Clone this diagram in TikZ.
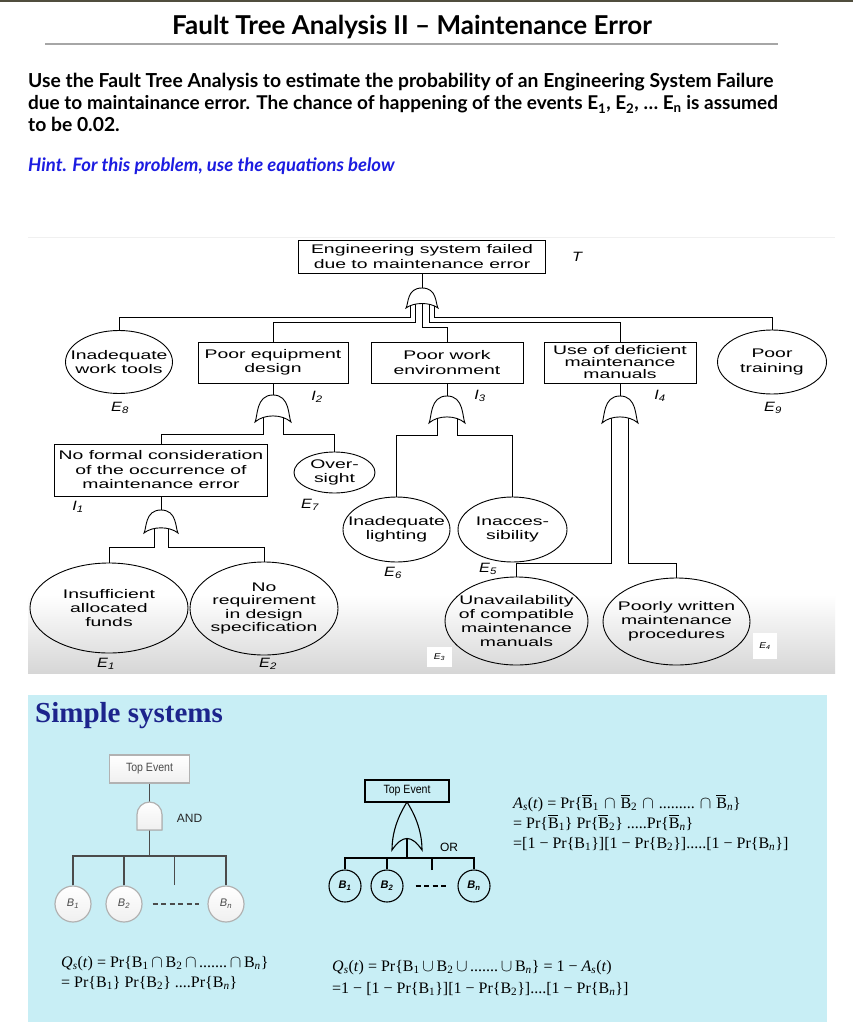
\documentclass[tikz,border=0pt]{standalone}
\usepackage{fontspec}
\setmainfont{Liberation Serif}
\newfontfamily\latof{Lato}
\newfontfamily\ftf[FakeStretch=1.55]{Liberation Sans}
\newfontfamily\labf[FakeStretch=1.2]{Liberation Sans}
\newfontfamily\narf[FakeStretch=0.88]{Liberation Sans}
\newfontfamily\arialf{Liberation Sans}
\newfontfamily\eqf{Liberation Serif}
\usetikzlibrary{shapes.geometric,calc}
\definecolor{hintblue}{RGB}{28,28,225}
\definecolor{panelcyan}{RGB}{200,238,245}
\definecolor{navyt}{RGB}{28,36,140}
\definecolor{topline}{RGB}{80,78,62}
\definecolor{sgray}{RGB}{75,75,75}
\newcommand\Bb{\makebox[0pt][l]{\rule[0.74em]{0.62em}{0.05em}}B}
\newcommand\lb[2]{\textit{#1}\textsubscript{\textit{#2}}}
\newcommand\capx{\,$\cap$\,}
\newcommand\capw{\hspace{5pt}$\cap$\hspace{5pt}}
\newcommand\cupx{\,$\cup$\,}
\newcommand\ftbf{\ftf\fontsize{12.5}{14.5}\selectfont}
\newcommand\ftgate[4]{%
  \filldraw[gateline] (#1-#3/2,#2+#4) .. controls (#1-0.42*#3,#2+0.8*#4) and (#1-0.48*#3,#2) .. (#1,#2)
   .. controls (#1+0.48*#3,#2) and (#1+0.42*#3,#2+0.8*#4) .. (#1+#3/2,#2+#4)
   .. controls (#1+0.25*#3,#2+0.7*#4) and (#1-0.25*#3,#2+0.7*#4) .. cycle;}
\newcommand\andgatex[4]{%
  \filldraw[andline] (#1-#3/2,#2+#4) -- (#1-#3/2,#2+#3/2) .. controls (#1-#3/2,#2+0.224*#3) and (#1-0.276*#3,#2) .. (#1,#2)
   .. controls (#1+0.276*#3,#2) and (#1+#3/2,#2+0.224*#3) .. (#1+#3/2,#2+#3/2) -- (#1+#3/2,#2+#4) -- cycle;}
\newcommand\orgatex[4]{%
  \draw[orline] (#1-#3/2,#2+#4) .. controls (#1-#3/2,#2+0.55*#4) and (#1-0.2*#3,#2+0.2*#4) .. (#1,#2)
   .. controls (#1+0.2*#3,#2+0.2*#4) and (#1+#3/2,#2+0.55*#4) .. (#1+#3/2,#2+#4)
   .. controls (#1+0.15*#3,#2+0.68*#4) and (#1-0.15*#3,#2+0.68*#4) .. cycle;}
\begin{document}
\begin{tikzpicture}[x=1pt,y=-1pt,
  ftbox/.style={draw, line width=0.9pt, inner sep=0pt, align=center, font=\ftbf},
  ftell/.style={draw, ellipse, line width=0.9pt, inner sep=0pt},
  fttext/.style={inner sep=0pt, align=center, font=\ftbf},
  lab/.style={inner sep=0pt, font=\labf\itshape\fontsize{13.5}{13.5}\selectfont},
  conn/.style={line width=0.9pt},
  gateline/.style={line width=0.9pt, fill=white},
  andline/.style={line width=1.2pt, draw=gray!60, top color=white, bottom color=gray!12},
  orline/.style={line width=1.1pt, draw=black},
  sconn/.style={line width=1.4pt, draw=sgray},
  rconn/.style={line width=1.1pt, draw=black},
  bcirc/.style={circle, minimum size=36pt, inner sep=0pt, draw=gray!60, line width=1.2pt, top color=white, bottom color=gray!12, font=\arialf\fontsize{11}{11}\selectfont, text=sgray},
  rcirc/.style={circle, minimum size=32pt, inner sep=0pt, draw=black, line width=1.1pt, font=\arialf\bfseries\fontsize{11}{11}\selectfont},
  eq/.style={anchor=base west, inner sep=0pt, font=\eqf\fontsize{16}{16}\selectfont},
  para/.style={anchor=base west, inner sep=0pt, font=\latof\bfseries\fontsize{19.3}{22}\selectfont}
]
\useasboundingbox (0,0) rectangle (853,1024);
\fill[white] (0,0) rectangle (853,1024);
\fill[topline] (0,0) rectangle (853,2);

% heading
\node[anchor=base, inner sep=0pt, font=\latof\bfseries\fontsize{26}{30}\selectfont] (title) at (412,35) {Fault Tree Analysis II – Maintenance Error};
\draw[gray!70, line width=1.2pt] (45,44) -- (778,44);
\node[para] (p1) at (28,88) {Use the Fault Tree Analysis to estimate the probability of an Engineering System Failure};
\node[para, font=\latof\bfseries\fontsize{19}{22}\selectfont] (p2) at (28,110) {due to maintainance error. The chance of happening of the events E\textsubscript{1}, E\textsubscript{2}, … E\textsubscript{n} is assumed};
\node[para] (p3) at (28,132) {to be 0.02.};
\node[anchor=base west, inner sep=0pt, text=hintblue, font=\latof\bfseries\itshape\fontsize{18.5}{20}\selectfont] (hint) at (28,172) {Hint. For this problem, use the equations below};

% fault tree picture area
\draw[gray!12] (28,237) -- (835,237);
\shade[top color=white, bottom color=gray!32] (28,595) rectangle (835,673);

% nodes
\node[ftbox, minimum width=247pt, minimum height=33pt] (top) at (422,256.5) {Engineering system failed\\due to maintenance error};
\node[ftell, minimum width=107pt, minimum height=63pt, label={[fttext]center:{Inadequate\\work tools}}] (ew) at (119,362) {};
\node[ftbox, minimum width=150pt, minimum height=41pt] (pe) at (273,362.5) {Poor equipment\\design};
\node[ftbox, minimum width=152pt, minimum height=41pt] (pwe) at (447,362.5) {Poor work\\environment};
\node[ftbox, minimum width=152pt, minimum height=41pt, font=\ftf\fontsize{12.5}{12}\selectfont] (ud) at (620,362.5) {Use of deficient\\maintenance\\manuals};
\node[ftell, minimum width=109pt, minimum height=64pt, label={[fttext]center:{Poor\\training}}] (ptr) at (772,362) {};
\node[ftbox, minimum width=213pt, minimum height=52pt] (nf) at (161,470) {No formal consideration\\of the occurrence of\\maintenance error};
\node[ftell, minimum width=81pt, minimum height=41pt, label={[fttext]center:{Over-\\sight}}] (ov) at (334.5,472.5) {};
\node[ftell, minimum width=107pt, minimum height=65pt, label={[fttext]center:{Inadequate\\lighting}}] (il) at (396.5,529.5) {};
\node[ftell, minimum width=109pt, minimum height=65pt, label={[fttext]center:{Inacces-\\sibility}}] (ia) at (512.5,529.5) {};
\node[ftell, minimum width=158pt, minimum height=90pt, label={[fttext, font=\ftf\fontsize{12.5}{14}\selectfont]center:{Insufficient\\allocated\\funds}}] (ins) at (109,608) {};
\node[ftell, minimum width=148pt, minimum height=93pt, label={[fttext, font=\ftf\fontsize{12.5}{13.5}\selectfont]center:{No\\requirement\\in design\\specification}}] (nr) at (264,608.5) {};
\node[ftell, minimum width=143pt, minimum height=88pt, label={[fttext, font=\ftf\fontsize{12.5}{14}\selectfont]center:{Unavailability\\of compatible\\maintenance\\manuals}}] (un) at (516.5,621) {};
\node[ftell, minimum width=147pt, minimum height=87pt, label={[fttext, font=\ftf\fontsize{12.5}{14}\selectfont]center:{Poorly written\\maintenance\\procedures}}] (pwr) at (676.5,621.5) {};

% labels
\node[lab] (lT) at (577,257) {T};
\node[lab] (lI2) at (317,397) {\lb{I}{2}};
\node[lab] (lI3) at (480,396) {\lb{I}{3}};
\node[lab] (lI4) at (660,396) {\lb{I}{4}};
\node[lab] (lE8) at (120,408) {\lb{E}{8}};
\node[lab] (lE9) at (773,408) {\lb{E}{9}};
\node[lab] (lI1) at (78,507) {\lb{I}{1}};
\node[lab] (lE7) at (310,505) {\lb{E}{7}};
\node[lab] (lE6) at (393,573) {\lb{E}{6}};
\node[lab] (lE5) at (488,569) {\lb{E}{5}};
\node[lab] (lE1) at (106,664) {\lb{E}{1}};
\node[lab] (lE2) at (268,664) {\lb{E}{2}};
\node[fill=white, minimum width=25pt, minimum height=20pt, inner sep=0pt, font=\labf\itshape\fontsize{8.5}{8.5}\selectfont] (lE3) at (439.5,657) {\lb{E}{3}};
\node[fill=white, minimum width=24pt, minimum height=26pt, inner sep=0pt, font=\labf\itshape\fontsize{8.5}{8.5}\selectfont] (lE4) at (765,646) {\lb{E}{4}};
\begin{scope}
\clip (28,590) rectangle (835,673);
\node[lab] (lE3c) at (515,681) {\lb{E}{3}};
\node[lab] (lE4c) at (680,681) {\lb{E}{4}};
\end{scope}

% gate coordinates
\coordinate (g0) at (422,288);
\coordinate (g0a) at (410,303); \coordinate (g0b) at (415,303); \coordinate (g0c) at (422,303);
\coordinate (g0d) at (429,303); \coordinate (g0e) at (434,303);
\coordinate (g2) at (273,395); \coordinate (g2a) at (263,415); \coordinate (g2b) at (283,415);
\coordinate (g3) at (447,396); \coordinate (g3a) at (437,416); \coordinate (g3b) at (457,416);
\coordinate (g4) at (620,396); \coordinate (g4a) at (611.5,416); \coordinate (g4b) at (628.5,416);
\coordinate (g1) at (161,510); \coordinate (g1a) at (154,527); \coordinate (g1b) at (168,527);

% connectors
\draw[conn] (top.south) -- (g0);
\draw[conn] (g0a) -- (g0a |- 0,317) -| (ew.north);
\draw[conn] (g0e) -- (g0e |- 0,317) -| (ptr.north);
\draw[conn] (g0b) -- (g0b |- 0,322) -| (pe.north);
\draw[conn] (g0d) -- (g0d |- 0,322) -| (ud.north);
\draw[conn] (g0c) -- (g0c |- 0,327) -| (pwe.north);
\draw[conn] (pe.south) -- (g2);
\draw[conn] (g2a) -- (g2a |- 0,434) -| (nf.north);
\draw[conn] (g2b) -- (g2b |- 0,434) -| (ov.north);
\draw[conn] (pwe.south) -- (g3);
\draw[conn] (g3a) -- (g3a |- 0,435) -| (il.north);
\draw[conn] (g3b) -- (g3b |- 0,435) -| (ia.north);
\draw[conn] (ud.south) -- (g4);
\draw[conn] (g4a) -- (g4a |- 0,563) -| (un.north);
\draw[conn] (g4b) -- (g4b |- 0,563) -| (pwr.north);
\draw[conn] (nf.south) -- (g1);
\draw[conn] (g1a) -- (g1a |- 0,547) -| (ins.north);
\draw[conn] (g1b) -- (g1b |- 0,547) -| (nr.north);

% gates
\ftgate{422}{288}{32}{20}
\ftgate{273}{395}{36}{27}
\ftgate{447}{396}{36}{27}
\ftgate{620}{396}{36}{27}
\ftgate{161}{510}{34}{23}

% simple systems panel
\fill[panelcyan] (28,695) rectangle (827,1022);
\node[anchor=base west, inner sep=0pt, text=navyt, font=\bfseries\fontsize{29}{32}\selectfont] (ss) at (35,722) {Simple systems};

% AND diagram
\node[draw=gray!60, line width=1.2pt, top color=white, bottom color=gray!12, minimum width=80pt, minimum height=28pt, inner sep=0pt, font=\narf\fontsize{12}{12}\selectfont, text=sgray] (tb1) at (149.5,769) {Top Event};
\coordinate (ag) at (149.5,802);
\coordinate (agb) at (149.5,830);
\coordinate (barL) at (0,856);
\node[bcirc] (b1) at (73,904) {\lb{B}{1}};
\node[bcirc] (b2) at (124,904) {\lb{B}{2}};
\node[bcirc] (bn) at (226,904) {\lb{B}{n}};
\coordinate (sk) at (174.5,885);
\draw[sconn] (tb1.south) -- (ag);
\draw[sconn] (agb) -- (agb |- barL);
\draw[sconn] (b1.north) -- (b1.north |- barL) -| (bn.north);
\draw[sconn] (b2.north) -- (b2.north |- barL);
\draw[sconn] (sk) -- (sk |- barL);
\andgatex{149.5}{802}{25}{28}
\draw[line width=1.4pt, draw=sgray, dash pattern=on 5pt off 3.5pt] ([xshift=10pt]b2.east) -- ([xshift=-8pt]bn.west);
\node[inner sep=0pt, font=\arialf\fontsize{12}{12}\selectfont, text=black!85] (andl) at (189.5,818) {AND};

% OR diagram
\node[draw=black, line width=1.1pt, minimum width=84pt, minimum height=22pt, inner sep=0pt, font=\narf\fontsize{12}{12}\selectfont] (tb2) at (407,791) {Top Event};
\coordinate (og) at (407,802);
\coordinate (ogb) at (407,839);
\coordinate (barR) at (0,858);
\node[rcirc] (c1) at (345,886) {\lb{B}{1}};
\node[rcirc] (c2) at (387,886) {\lb{B}{2}};
\node[rcirc] (cn) at (474,886) {\lb{B}{n}};
\coordinate (sk2) at (432,870);
\orgatex{407}{802}{30}{48}
\draw[rconn] (ogb) -- (ogb |- barR);
\draw[rconn] (c1.north) -- (c1.north |- barR) -| (cn.north);
\draw[rconn] (c2.north) -- (c2.north |- barR);
\draw[rconn] (sk2) -- (sk2 |- barR);
\draw[line width=1.1pt, dash pattern=on 5pt off 3.5pt] ([xshift=12pt]c2.east) -- ([xshift=-10pt]cn.west);
\node[inner sep=0pt, font=\arialf\fontsize{12}{12}\selectfont] (orl) at (449,847) {OR};

% equations
\node[eq] (ea1) at (513,808) {\textit{A}\textsubscript{\textit{s}}(\textit{t}) = Pr\{\Bb\textsubscript{1}\capw\Bb\textsubscript{2}\capw.........\capw\Bb\textsubscript{\textit{n}}\}};
\node[eq] (ea2) at (513,828) {= Pr\{\Bb\textsubscript{1}\} Pr\{\Bb\textsubscript{2}\} .....Pr\{\Bb\textsubscript{\textit{n}}\}};
\node[eq] (ea3) at (513,848) {=[1 − Pr\{B\textsubscript{1}\}][1 − Pr\{B\textsubscript{2}\}].....[1 − Pr\{B\textsubscript{\textit{n}}\}]};
\node[eq] (eq1) at (61,967) {\textit{Q}\textsubscript{\textit{s}}(\textit{t}) = Pr\{B\textsubscript{1}\capx B\textsubscript{2}\capx.......\capx B\textsubscript{\textit{n}}\}};
\node[eq] (eq2) at (61,987) {= Pr\{B\textsubscript{1}\} Pr\{B\textsubscript{2}\} ....Pr\{B\textsubscript{\textit{n}}\}};
\node[eq] (er1) at (332,971) {\textit{Q}\textsubscript{\textit{s}}(\textit{t}) = Pr\{B\textsubscript{1}\cupx B\textsubscript{2}\cupx.......\cupx B\textsubscript{\textit{n}}\} = 1 − \textit{A}\textsubscript{\textit{s}}(\textit{t})};
\node[eq] (er2) at (332,993) {=1 − [1 − Pr\{B\textsubscript{1}\}][1 − Pr\{B\textsubscript{2}\}]....[1 − Pr\{B\textsubscript{\textit{n}}\}]};
\end{tikzpicture}
\end{document}
